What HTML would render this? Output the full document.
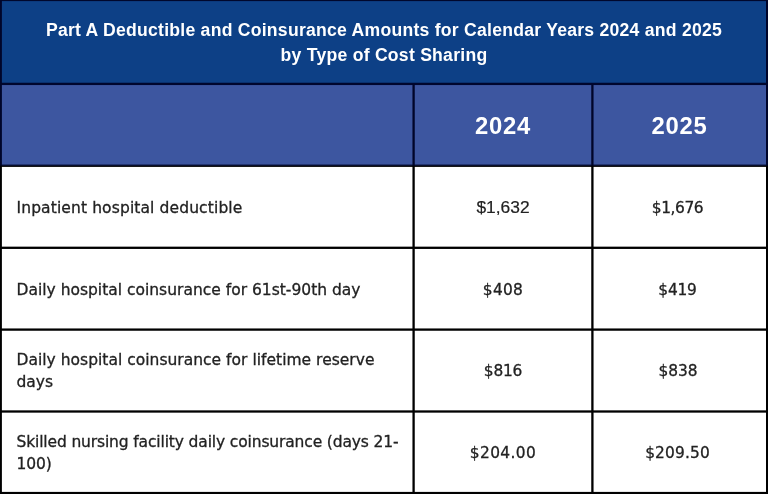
<!DOCTYPE html>
<html lang="en">
<head>
<meta charset="utf-8">
<title>Part A Deductible and Coinsurance Amounts</title>
<style>
html,body{margin:0;padding:0;}
body{width:768px;height:494px;position:relative;overflow:hidden;background:#fff;font-family:"DejaVu Sans","Liberation Sans",sans-serif;color:#222;}
.bg{position:absolute;left:0;}
#title-bg{top:0;width:768px;height:84px;background:#0d4086;}
#head-bg{top:84px;width:768px;height:82px;background:#3d56a0;}
#title{position:absolute;left:0;top:18px;width:768px;text-align:center;color:#fff;font-family:"Liberation Sans",sans-serif;font-weight:bold;font-size:17.6px;line-height:25px;letter-spacing:0.25px;white-space:nowrap;}
.yr{position:absolute;top:111px;height:30px;line-height:30px;text-align:center;color:#fff;font-weight:bold;font-size:23.8px;letter-spacing:0.8px;font-family:"Liberation Sans",sans-serif;white-space:nowrap;}
.lab{-webkit-text-stroke:0.3px #222;position:absolute;left:16.5px;width:395px;font-size:15.5px;line-height:22px;white-space:nowrap;}
.val{-webkit-text-stroke:0.3px #222;position:absolute;text-align:center;font-size:15.4px;line-height:22px;white-space:nowrap;}
.c1{left:413px;width:180px;}
.c2{left:588px;width:180px;}
.ar{-webkit-text-stroke:0.2px #222;font-family:"Liberation Sans",sans-serif;font-size:17.4px;}
</style>
</head>
<body>
<div class="bg" id="title-bg"></div>
<div class="bg" id="head-bg"></div>
<div id="title">Part A Deductible and Coinsurance Amounts for Calendar Years 2024 and 2025<br>by Type of Cost Sharing</div>

<div class="yr c1">2024</div>
<div class="yr c2" style="left:589.6px">2025</div>

<div class="lab" style="top:197px;letter-spacing:0.12px">Inpatient hospital deductible</div>
<div class="val c1 ar" style="top:196px">$1,632</div>
<div class="val c2" style="top:197px;left:587.5px;letter-spacing:-0.4px">$1,676</div>

<div class="lab" style="top:279px">Daily hospital coinsurance for 61st-90th day</div>
<div class="val c1" style="top:279px;letter-spacing:0.3px">$408</div>
<div class="val c2" style="top:279px;left:587.5px;letter-spacing:-0.2px">$419</div>

<div class="lab" style="top:349px;letter-spacing:0.015px">Daily hospital coinsurance for lifetime reserve<br>days</div>
<div class="val c1" style="top:360px;letter-spacing:-0.2px">$816</div>
<div class="val c2" style="top:360px">$838</div>

<div class="lab" style="top:431px;letter-spacing:-0.14px">Skilled nursing facility daily coinsurance (days 21-<br>100)</div>
<div class="val c1" style="top:442px;letter-spacing:0.4px">$204.00</div>
<div class="val c2" style="top:442px;left:587.5px;letter-spacing:0.15px">$209.50</div>

<svg id="grid" width="768" height="494" viewBox="0 0 768 494" style="position:absolute;left:0;top:0">
<defs>
<linearGradient id="vg" gradientUnits="userSpaceOnUse" x1="0" y1="0" x2="0" y2="494">
<stop offset="0" stop-color="#00052a"/><stop offset="0.334" stop-color="#00052a"/><stop offset="0.337" stop-color="#000"/><stop offset="1" stop-color="#000"/>
</linearGradient>
</defs>
<rect x="0" y="0" width="768" height="1.1" fill="#00072c"/>
<rect x="0" y="82.75" width="768" height="2.3" fill="#00062e"/>
<rect x="0" y="164.6" width="768" height="1.2" fill="#00052a"/>
<rect x="0" y="165.7" width="768" height="1.2" fill="#000"/>
<rect x="0" y="246.65" width="768" height="2.3" fill="#000"/>
<rect x="0" y="328.45" width="768" height="2.3" fill="#000"/>
<rect x="0" y="410.35" width="768" height="2.3" fill="#000"/>
<rect x="0" y="491.9" width="768" height="2.1" fill="#000"/>
<rect x="0" y="0" width="1.9" height="494" fill="url(#vg)"/>
<rect x="412.45" y="84" width="2.3" height="410" fill="url(#vg)"/>
<rect x="591.25" y="84" width="2.3" height="410" fill="url(#vg)"/>
<rect x="766" y="0" width="2" height="494" fill="url(#vg)"/>
</svg>
</body>
</html>
